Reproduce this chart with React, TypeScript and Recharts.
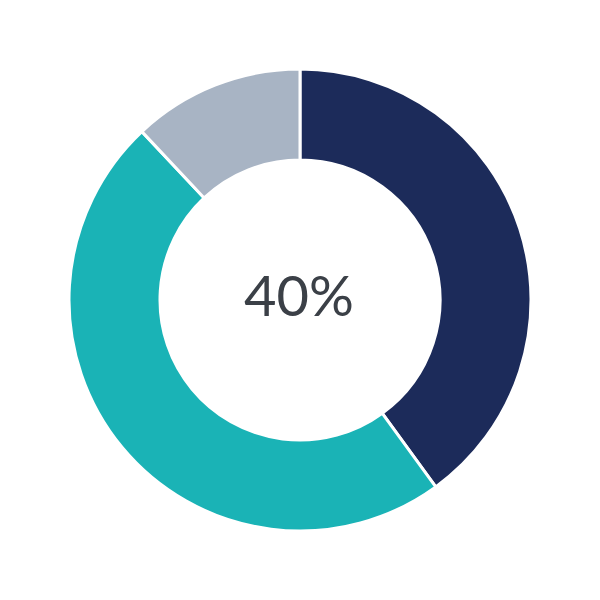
import React from 'react';
import { PieChart, Pie, Cell } from 'recharts';

const segmentNames = ['Navy', 'Teal', 'Grey'];
const segmentValues = [40, 48, 12];
const segmentColors = ['#1c2b5a', '#1ab3b6', '#a8b4c4'];
const centerLabel = '40%';

const data = segmentNames.map((name, i) => ({ name, value: segmentValues[i] }));

const App: React.FC = () => {
    return (
        <div style={{ position: 'absolute', top: 0, left: 0, width: 600, height: 600, background: '#fff' }}>
            <PieChart width={600} height={600} margin={{ top: 0, right: 0, bottom: 0, left: 0 }}>
                <Pie
                    data={data}
                    dataKey="value"
                    cx={300}
                    cy={300}
                    innerRadius={140}
                    outerRadius={231}
                    startAngle={90}
                    endAngle={-270}
                    stroke="#ffffff"
                    strokeWidth={3}
                    isAnimationActive={false}
                >
                    {data.map((d, i) => (
                        <Cell key={d.name} fill={segmentColors[i]} />
                    ))}
                </Pie>
                <text
                    x={299}
                    y={316}
                    textAnchor="middle"
                    fontFamily="Lato, sans-serif"
                    fontSize={56}
                    fill="#3b4047"
                >
                    {centerLabel}
                </text>
            </PieChart>
        </div>
    );
};

export default App;
